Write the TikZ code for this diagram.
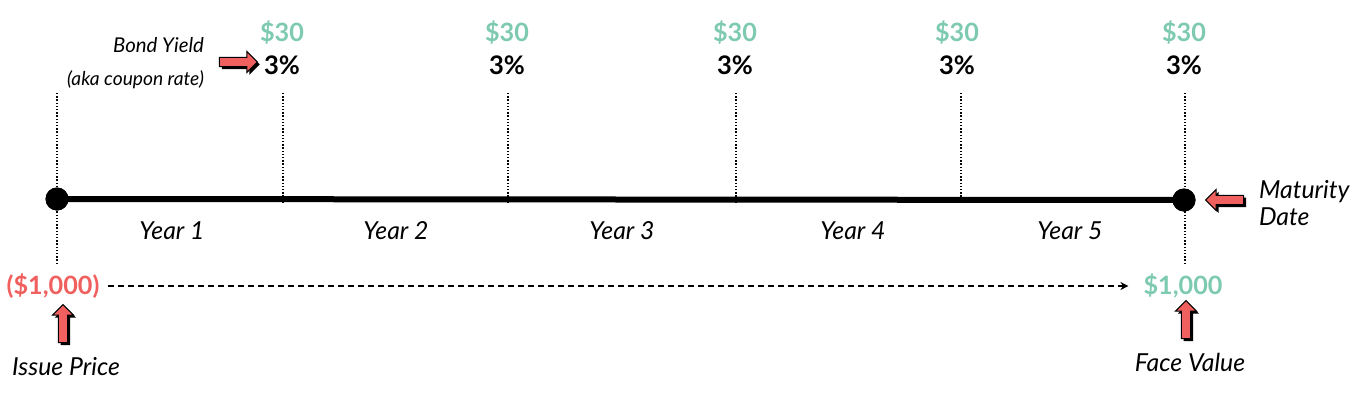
\documentclass[tikz,border=0pt]{standalone}
\usepackage{fontspec}
\setmainfont{Lato}
\usetikzlibrary{arrows.meta,shapes.arrows,shadows}
\definecolor{bondteal}{HTML}{7DCAB0}
\definecolor{bondred}{HTML}{F0605E}
\tikzset{
  tick/.style={line width=0.6pt, dash pattern=on 0.7pt off 0.9pt},
  dot/.style={circle, fill=black, minimum size=11.5pt, inner sep=0pt},
  cash/.style={font=\bfseries\fontsize{12.6}{14}\selectfont, text=bondteal},
  rate/.style={font=\bfseries\fontsize{12.8}{14}\selectfont},
  yearlbl/.style={font=\itshape\fontsize{12.4}{14}\selectfont},
  note/.style={font=\itshape\fontsize{12.4}{14}\selectfont},
  pointer/.style={single arrow, fill=bondred, draw=black, line width=0.5pt,
    minimum height=19pt, inner sep=2.1pt, single arrow head extend=2.9pt,
    drop shadow={fill=black, opacity=1, shadow xshift=1.2pt, shadow yshift=-1.2pt}}
}
\begin{document}
\begin{tikzpicture}[x=0.5pt,y=-0.5pt]
  \useasboundingbox (0,0) rectangle (1360,402);
  %%%%% ticks %%%%%
  \draw[tick] (57,93) -- (57,263);
  \draw[tick] (1185,93) -- (1185,263);
  \foreach \xx in {283,508,736,961}
    \draw[tick] (\xx,93) -- (\xx,203);

  %%%%% timeline %%%%%
  \node[dot] (issue) at (57,199) {};
  \node[dot] (maturity) at (1184,200) {};
  \draw[line width=3pt] (issue.center) -- (maturity.center);
  \node[dot] at (issue) {};
  \node[dot] at (maturity) {};

  %%%%% coupons %%%%%
  \foreach \i/\xx in {1/282,2/507,3/735,4/957,5/1184}{
    \node[cash] (coupon\i) at (\xx,33) {\$30};
    \node[rate] (rate\i) at (\xx,65) {3\%};
  }
  \foreach \i/\xx in {1/172,2/396,3/622,4/853,5/1070}
    \node[yearlbl] (year\i) at (\xx,231) {Year \i};

  %%%%% bond yield %%%%%
  \node[note, font=\itshape\fontsize{10.2}{12}\selectfont, anchor=east] (yield) at (211,45) {Bond Yield};
  \node[note, font=\itshape\fontsize{9.6}{11}\selectfont, anchor=east] (aka) at (211,80) {(aka coupon rate)};
  \node[pointer] (yieldarrow) at (236,62) {};

  %%%%% prices %%%%%
  \node[cash, text=bondred] (issueprice) at (53,286) {(\$1,000)};
  \node[cash] (facevalue) at (1183,286) {\$1,000};
  \draw[line width=0.6pt, dash pattern=on 3pt off 2pt, -{Stealth[length=4pt,width=4pt]},
    shorten <=1pt, shorten >=4pt] (issueprice) -- (facevalue);

  \node[pointer, shape border rotate=90] (issuearrow) at (63,326) {};
  \node[note] (issuelbl) at (66,367) {Issue Price};
  \node[pointer, shape border rotate=90] (facearrow) at (1186,322) {};
  \node[note] (facelbl) at (1190,362) {Face Value};

  %%%%% maturity %%%%%
  \node[pointer, shape border rotate=180] (maturityarrow) at (1227,200) {};
  \node[note, anchor=west, align=left] (maturitylbl) at (1252,203) {Maturity\\[-0.5pt]Date};
\end{tikzpicture}
\end{document}
